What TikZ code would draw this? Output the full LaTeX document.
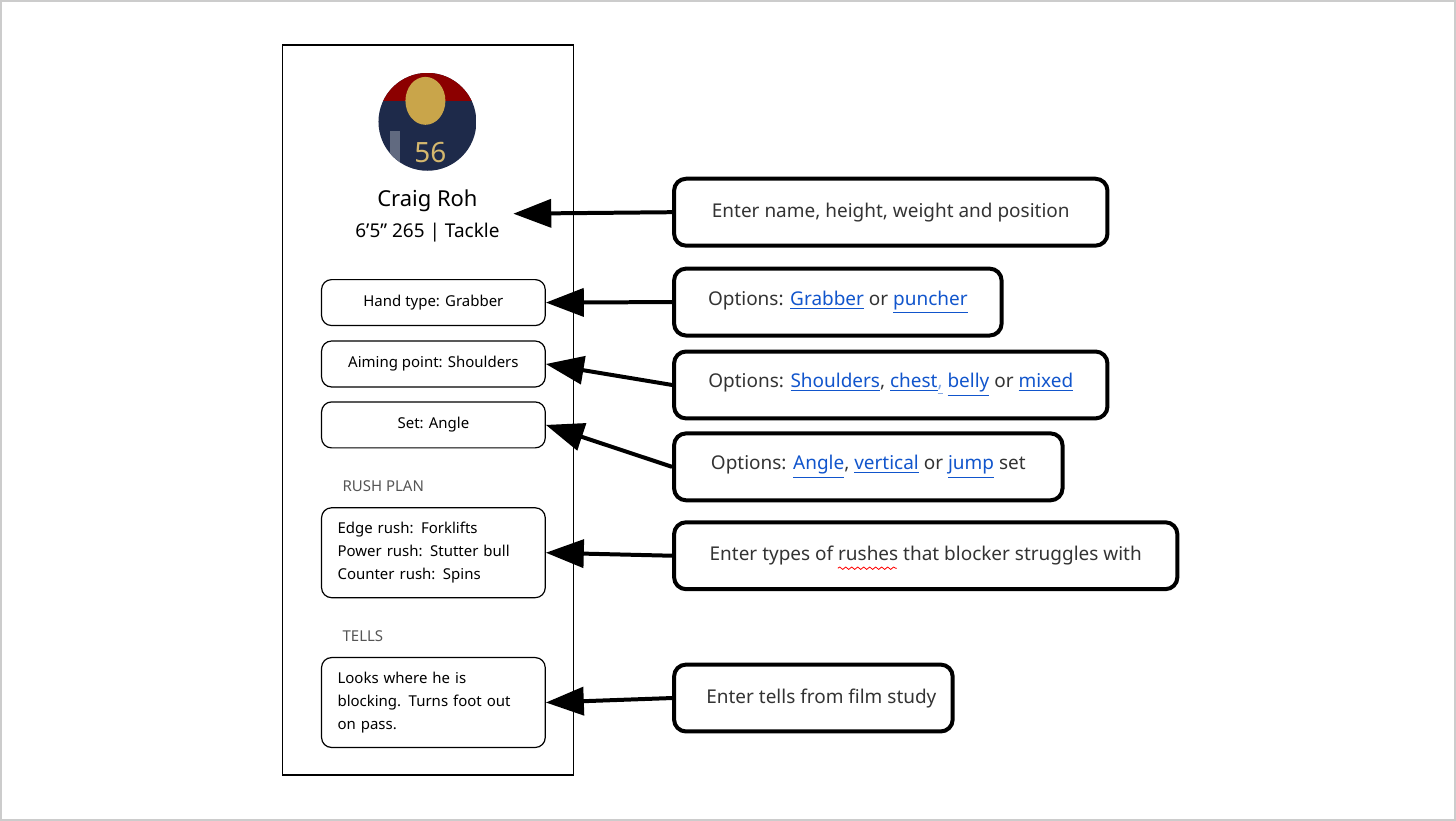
\documentclass[tikz,border=0pt]{standalone}
\usepackage{fontspec}
\setmainfont{Noto Sans}
\usetikzlibrary{arrows.meta,decorations.pathmorphing}
\definecolor{lnk}{HTML}{1155CC}
\definecolor{txt}{HTML}{333333}
\definecolor{hdr}{HTML}{555555}
\definecolor{navy}{HTML}{1E2A4A}
\definecolor{gold}{HTML}{C9A54A}
\newcommand{\lk}[1]{\textcolor{lnk}{\underline{#1}}}
\newcommand{\fs}[1]{\fontsize{#1}{#1}\selectfont}
\begin{document}
\begin{tikzpicture}[x=0.5pt,y=-0.5pt,
  field/.style={draw,rounded corners=5pt,line width=0.6pt,minimum width=112pt,
    minimum height=23pt,font=\fs{7.5pt},inner sep=0pt},
  tallfield/.style={field,minimum height=45pt,align=left,text width=96pt,
    font=\fontsize{7.5pt}{11.5pt}\selectfont},
  note/.style={draw,rounded corners=6pt,line width=2pt,minimum height=33.5pt,
    font=\fs{9.5pt},text=txt,anchor=west,inner sep=0pt},
  hint/.style={-{Triangle[length=19pt,width=14pt]},line width=2pt},
  section/.style={font=\bfseries\fs{7.5pt},text=hdr,anchor=west}]
  % page frame
  \draw[gray!40,line width=1pt] (0,0) rectangle (1456,820);
  % profile card
  \draw[line width=0.6pt] (282,44) rectangle (573,775);
  % photo
  \begin{scope}
    \clip (427,121) circle[radius=49];
    \fill[navy] (378,72) rectangle (476,170);
    \fill[red!55!black] (378,72) rectangle (476,100);
    \fill[gold] (425,100) ellipse[x radius=20,y radius=24];
    \fill[navy!70!white] (390,130) rectangle (400,170);
    \node[font=\bfseries\fs{14pt},text=gold!80!white] at (430,152) {56};
  \end{scope}
  \node[font=\bfseries\fs{11pt}] (name) at (427,200) {Craig Roh};
  \node[font=\fs{9.5pt}] (info) at (427,232) {6’5” 265 | Tackle};
  \coordinate (tip1) at (513,213);
  % fields
  \node[field] (hand) at (433,302) {Hand type: \textbf{Grabber}};
  \node[field] (aim) at (433,363.5) {Aiming point: \textbf{Shoulders}};
  \node[field] (set) at (433,424.5) {Set: \textbf{Angle}};
  \node[section] (rush) at (335,486) {RUSH PLAN};
  \node[tallfield] (plan) at (433,552.5) {Edge rush: \textbf{Forklifts}\\
    Power rush: \textbf{Stutter bull}\\Counter rush: \textbf{Spins}};
  \node[section] (tells) at (335,636) {TELLS};
  \node[tallfield] (tell) at (433,702.5) {Looks where he is\\
    blocking. Turns foot out\\on pass.};
  % notes
  \node[note,minimum width=217pt] (n1) at (672,211.5) {Enter name, height, weight and position};
  \node[note,minimum width=164pt] (n2) at (672,301.5) {Options: \lk{Grabber} or \lk{puncher}};
  \node[note,minimum width=217pt] (n3) at (672,384.5) {Options: \lk{Shoulders}, \lk{chest}\textcolor{lnk!50}{\underline{,}} \lk{belly} or \lk{mixed}};
  \node[note,minimum width=194.5pt] (n4) at (672,466.5) {Options: \lk{Angle}, \lk{vertical} or \lk{jump} set};
  \node[note,minimum width=252pt] (n5) at (672,555.5) {Enter types of rushes that blocker struggles with};
  \node[note,minimum width=139.5pt] (n6) at (672,698) {\hspace{8pt}Enter tells from film study\hspace{8pt}};
  \draw[red,line width=0.4pt,decorate,decoration={snake,amplitude=0.6pt,segment length=3pt}]
    (838,568) -- (897,568);
  % hints
  \draw[hint] (n1.west) -- (tip1);
  \draw[hint] (n2.west) -- (hand.east);
  \draw[hint] (n3.west) -- (aim.east);
  \draw[hint] (n4.west) -- (set.east);
  \draw[hint] (n5.west) -- (plan.east);
  \draw[hint] (n6.west) -- (tell.east);
\end{tikzpicture}
\end{document}
